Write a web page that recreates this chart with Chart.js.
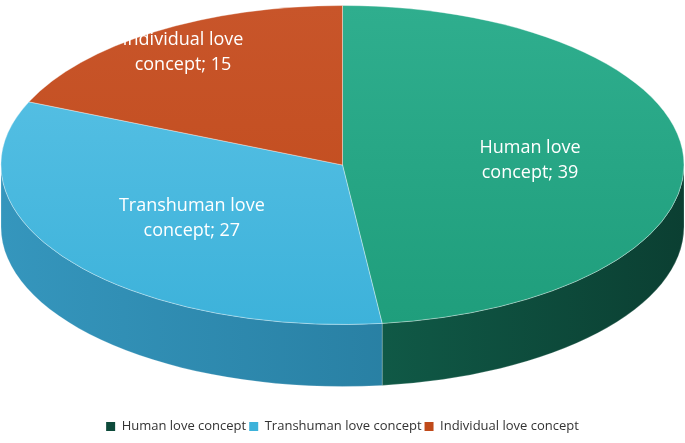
<!DOCTYPE html>
<html><head><meta charset="utf-8">
<script src="https://cdn.jsdelivr.net/npm/chart.js@4/dist/chart.umd.min.js"></script>
<style>html,body{margin:0;padding:0;background:#fff}#w{width:685px;height:443px}</style>
</head><body><div id="w"><canvas id="c"></canvas></div>
<script>
const categories = ["Human love concept", "Transhuman love concept", "Individual love concept"];
const values = [39, 27, 15];
const topColors = ["#1f9e7c", "#3db2da", "#c04a1a"];
const topLight = ["#2fae8e", "#5cc3e6", "#c8552a"];
const wallDark = ["#0b3f32", "#1f6f90", "#8a3210"];
const wallLight = ["#167a60", "#3596bd", "#b04418"];
const legendColors = ["#0d4a3a", "#3db2da", "#c04a1a"];
const labelFactor = [0.55, 0.55, 0.85];

const pie3d = {
  id: 'pie3d',
  beforeDatasetsDraw(chart) {
    const ctx = chart.ctx, ca = chart.chartArea;
    const meta = chart.getDatasetMeta(0);
    const cx = (ca.left + ca.right) / 2;
    const rx = (ca.right - ca.left) / 2 - 1;
    const ry = rx * 0.467;
    const cy = 165;
    const depth = 62;
    const pt = (a, dy) => [cx + rx * Math.cos(a), cy + ry * Math.sin(a) + (dy || 0)];
    ctx.save();
    meta.data.forEach((arc, i) => {
      const s = arc.startAngle, e = arc.endAngle;
      for (const off of [0, 2 * Math.PI, -2 * Math.PI]) {
        const a1 = Math.max(s + off, 0), a2 = Math.min(e + off, Math.PI);
        if (a2 <= a1) continue;
        const g = ctx.createLinearGradient(cx - rx, 0, cx + rx, 0);
        g.addColorStop(0, wallLight[i]); g.addColorStop(1, wallDark[i]);
        ctx.beginPath();
        ctx.ellipse(cx, cy, rx, ry, 0, a1, a2, false);
        const p = pt(a2, depth); ctx.lineTo(p[0], p[1]);
        ctx.ellipse(cx, cy + depth, rx, ry, 0, a2, a1, true);
        ctx.closePath();
        ctx.fillStyle = g; ctx.fill();
        ctx.strokeStyle = 'rgba(255,255,255,0.25)'; ctx.lineWidth = 0.8; ctx.stroke();
      }
    });
    meta.data.forEach((arc, i) => {
      const g = ctx.createLinearGradient(0, cy - ry, 0, cy + ry);
      g.addColorStop(0, topLight[i]); g.addColorStop(1, topColors[i]);
      ctx.beginPath();
      ctx.moveTo(cx, cy);
      ctx.ellipse(cx, cy, rx, ry, 0, arc.startAngle, arc.endAngle, false);
      ctx.closePath();
      ctx.fillStyle = g; ctx.fill();
      ctx.strokeStyle = 'rgba(255,255,255,0.35)'; ctx.lineWidth = 1; ctx.stroke();
    });
    ctx.fillStyle = '#fff';
    ctx.font = '18px "Open Sans", sans-serif';
    ctx.textAlign = 'center'; ctx.textBaseline = 'middle';
    meta.data.forEach((arc, i) => {
      const m = (arc.startAngle + arc.endAngle) / 2, f = labelFactor[i];
      const x = cx + rx * f * Math.cos(m), y = cy + ry * f * Math.sin(m);
      const words = categories[i].split(' ');
      const l1 = words.slice(0, -1).join(' ');
      const l2 = words[words.length - 1] + '; ' + chart.data.datasets[0].data[i];
      ctx.fillText(l1, x, y - 12); ctx.fillText(l2, x, y + 13);
    });
    ctx.restore();
    return false;
  }
};

new Chart(document.getElementById('c'), {
  type: 'pie',
  data: { labels: categories, datasets: [{ data: values, backgroundColor: legendColors, borderWidth: 0 }] },
  options: {
    responsive: true, maintainAspectRatio: false, animation: false,
    layout: { padding: { left: 0, right: 0, top: 0, bottom: 0 } },
    plugins: {
      tooltip: { enabled: false },
      legend: {
        position: 'bottom',
        labels: { boxWidth: 9, boxHeight: 9, padding: 3, color: '#333',
          font: { size: 13, family: '"Open Sans", sans-serif' } }
      }
    }
  },
  plugins: [pie3d]
});
</script></body></html>
